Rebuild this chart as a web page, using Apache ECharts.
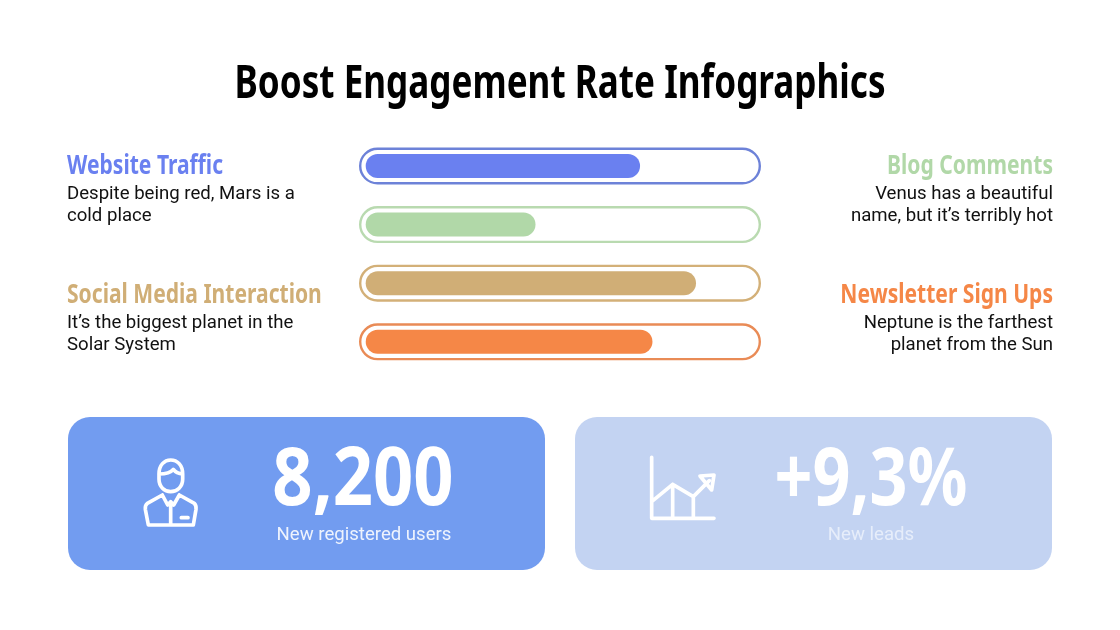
<!DOCTYPE html>
<html>
<head>
<meta charset="utf-8">
<script src="https://cdn.jsdelivr.net/npm/echarts@6/dist/echarts.min.js"></script>
<style>
    html,body{margin:0;padding:0;background:#fff;}
    #main{width:1120px;height:630px;}
</style>
</head>
<body>
<div id="main"></div>
<script>
    var titleText = 'Boost Engagement Rate Infographics';
    var categories = ['Website Traffic', 'Blog Comments', 'Social Media Interaction', 'Newsletter Sign Ups'];
    var fillValues = [70.6, 43.7, 85, 73.8];
    var trackValues = [100, 100, 100, 100];
    var fillColors = ['#6A80F0', '#B1D8A8', '#D0AE76', '#F58747'];
    var trackColors = ['#6D82D8', '#B9DAB0', '#D3B078', '#E98B56'];
    var descriptions = [
        ['Despite being red, Mars is a', 'cold place'],
        ['Venus has a beautiful', 'name, but it\u2019s terribly hot'],
        ['It\u2019s the biggest planet in the', 'Solar System'],
        ['Neptune is the farthest', 'planet from the Sun']
    ];
    var statValues = ['8,200', '+9,3%'];
    var statLabels = ['New registered users', 'New leads'];

    var display = '"Noto Sans", sans-serif';
    var body = 'Roboto, sans-serif';

    var myChart = echarts.init(document.getElementById('main'));

    // no condensed font installed, so display text is squeezed with scaleX
    function txt(x, y, text, size, color, align, family, weight, sx) {
        return {
            type: 'text', x: x, y: y, z: 20, scaleX: sx || 1,
            style: {
                text: text, fontSize: size, fill: color, align: align, verticalAlign: 'middle',
                fontFamily: family, fontWeight: weight || 'normal'
            }
        };
    }

    echarts.graphic.registerShape('iconUser', echarts.graphic.extendPath(
        'M87 72C87 45 103 30 122 30C142 30 158 45 158 72L158 88C158 110 142 125 122 125C103 125 87 110 87 88Z' +
        'M87 72C105 72 122 68 130 58C136 66 146 71 158 72' +
        'M97 135L52 160C46 165 45 170 46 178L55 225L190 225L198 178C199 170 198 165 193 160L148 135' +
        'M97 135L113 165L122 155L131 165L148 135M122 165L122 225M154 203L174 203'));
    echarts.graphic.registerShape('iconGrowth', echarts.graphic.extendPath(
        'M35 22L35 205L222 205M35 155L98 103L160 140L208 92M180 78L222 75L215 120ZM98 103L98 205M160 140L160 205'));

    var graphics = [
        {type: 'rect', z: 1, shape: {x: 68, y: 417, width: 477, height: 153, r: 22}, style: {fill: '#729CF0'}},
        {type: 'rect', z: 1, shape: {x: 575, y: 417, width: 477, height: 153, r: 22}, style: {fill: '#C3D3F2'}},
        txt(560, 85, titleText, 46, '#000', 'center', display, 'bold', 0.763)
    ];

    // text blocks, left column for even rows, right column for odd
    var headY = [166, 166, 295, 295];
    categories.forEach(function (name, i) {
        var right = i % 2 === 1;
        var x = right ? 1053 : 67;
        var align = right ? 'right' : 'left';
        graphics.push(txt(x, headY[i], name, 27, fillColors[i], align, display, 'bold', 0.78));
        graphics.push(txt(x, headY[i] + 28.5, descriptions[i][0], 18.6, '#111', align, body));
        graphics.push(txt(x, headY[i] + 50.5, descriptions[i][1], 18.6, '#111', align, body));
    });

    graphics.push(txt(363, 482, statValues[0], 81, '#fff', 'center', display, 'bold', 0.87));
    graphics.push(txt(364, 535, statLabels[0], 18.6, '#EEF3FD', 'center', body));
    graphics.push(txt(871, 482, statValues[1], 81, '#fff', 'center', display, 'bold', 0.82));
    graphics.push(txt(871, 535, statLabels[1], 18.6, '#E6EDFA', 'center', body));

    // icons, drawn at 3x and scaled down
    var iconStyle = {fill: null, stroke: '#fff', lineWidth: 11, lineJoin: 'round', lineCap: 'round'};
    graphics.push({type: 'iconUser', x: 130, y: 450, scaleX: 1 / 3, scaleY: 1 / 3, z: 20, style: iconStyle});
    graphics.push({type: 'iconGrowth', x: 640, y: 450, scaleX: 1 / 3, scaleY: 1 / 3, z: 20, style: iconStyle});

    var hiddenCat = function (idx) {
        return {type: 'category', gridIndex: idx, data: categories, inverse: true, show: false};
    };
    var hiddenVal = function (idx) {
        return {type: 'value', gridIndex: idx, min: 0, max: 100, show: false};
    };

    var option = {
        animation: false,
        backgroundColor: '#fff',
        grid: [
            {left: 359, top: 136.7, width: 402, height: 234.4},
            {left: 365.7, top: 136.7, width: 388.6, height: 234.4}
        ],
        xAxis: [hiddenVal(0), hiddenVal(1)],
        yAxis: [hiddenCat(0), hiddenCat(1)],
        series: [
            {
                type: 'bar', xAxisIndex: 0, yAxisIndex: 0, barWidth: 37, silent: true,
                data: trackValues.map(function (v, i) {
                    return {value: v, itemStyle: {color: '#fff', borderColor: trackColors[i], borderWidth: 2.4, borderRadius: 18.5}};
                })
            },
            {
                type: 'bar', xAxisIndex: 1, yAxisIndex: 1, barWidth: 24, silent: true, z: 5,
                data: fillValues.map(function (v, i) {
                    return {value: v, itemStyle: {color: fillColors[i], borderRadius: 12}};
                })
            }
        ],
        graphic: graphics
    };

    myChart.setOption(option);
</script>
</body>
</html>
